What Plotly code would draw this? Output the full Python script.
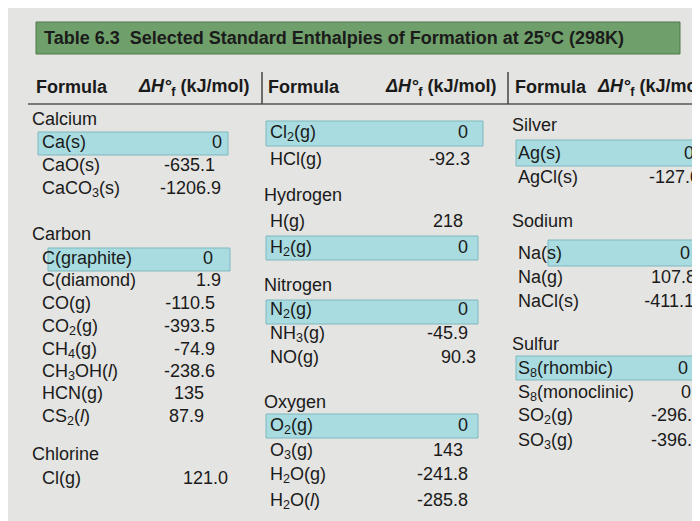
import plotly.graph_objects as go

title = "Table 6.3  Selected Standard Enthalpies of Formation at 25°C (298K)"

# column 1
c1_groups = ["Calcium", "Carbon", "Chlorine"]
c1_group_y = [112, 227, 447]
c1_formulas = ["Ca(s)", "CaO(s)", "CaCO<sub>3</sub>(s)", "C(graphite)", "C(diamond)", "CO(g)",
               "CO<sub>2</sub>(g)", "CH<sub>4</sub>(g)", "CH<sub>3</sub>OH(<i>l</i>)", "HCN(g)",
               "CS<sub>2</sub>(<i>l</i>)", "Cl(g)"]
c1_values = ["0", "-635.1", "-1206.9", "0", "1.9", "-110.5", "-393.5", "-74.9", "-238.6",
             "135", "87.9", "121.0"]
c1_y = [135, 158, 181, 251, 273, 296, 319, 342, 364, 386, 409, 471]
c1_vx = [214, 207, 213, 205, 213, 207, 207, 207, 207, 196, 196, 220]

# column 2
c2_groups = ["Hydrogen", "Nitrogen", "Oxygen"]
c2_group_y = [188, 278, 395]
c2_formulas = ["Cl<sub>2</sub>(g)", "HCl(g)", "H(g)", "H<sub>2</sub>(g)", "N<sub>2</sub>(g)",
               "NH<sub>3</sub>(g)", "NO(g)", "O<sub>2</sub>(g)", "O<sub>3</sub>(g)",
               "H<sub>2</sub>O(g)", "H<sub>2</sub>O(<i>l</i>)"]
c2_values = ["0", "-92.3", "218", "0", "0", "-45.9", "90.3", "0", "143", "-241.8", "-285.8"]
c2_y = [125, 152, 214, 240, 302, 326, 350, 418, 443, 467, 493]
c2_vx = [460, 462, 455, 460, 460, 460, 468, 460, 455, 460, 460]

# column 3
c3_groups = ["Silver", "Sodium", "Sulfur"]
c3_group_y = [118, 214, 337]
c3_formulas = ["Ag(s)", "AgCl(s)", "Na(s)", "Na(g)", "NaCl(s)", "S<sub>8</sub>(rhombic)",
               "S<sub>8</sub>(monoclinic)", "SO<sub>2</sub>(g)", "SO<sub>3</sub>(g)"]
c3_values = ["0", "-127.0", "0", "107.8", "-411.1", "0", "0.3", "-296.8", "-396.0"]
c3_y = [146, 170, 246, 270, 294, 361, 385, 408, 433]
c3_vx = [686, 692, 682, 688, 686, 680, 698, 694, 694]

highlights = [(30, 220, 124, 147), (40, 222, 240, 263), (258, 475, 113, 138),
              (258, 470, 228, 252), (258, 470, 292, 316), (258, 470, 406, 430),
              (508, 695, 132, 158), (540, 695, 232, 258), (508, 690, 348, 372)]

fig = go.Figure()
shapes = [dict(type="rect", x0=28, x1=672, y0=14, y1=46, fillcolor="#6f9f6a", line=dict(color="#4d7a4a", width=1)),
          dict(type="line", x0=20, x1=700, y0=96, y1=96, line=dict(color="#555", width=1.5)),
          dict(type="line", x0=254, x1=254, y0=64, y1=96, line=dict(color="#444", width=1.5)),
          dict(type="line", x0=500, x1=500, y0=64, y1=96, line=dict(color="#444", width=1.5))]
for x0, x1, y0, y1 in highlights:
    shapes.append(dict(type="rect", x0=x0, x1=x1, y0=y0, y1=y1, fillcolor="#a9dce0",
                       line=dict(color="#7fb8bf", width=1), layer="below"))

font = dict(family="Liberation Sans, Arial", size=18, color="#1a1a1a")

def add_col(groups, gy, gx, formulas, fy, fx, values, vx):
    fig.add_trace(go.Scatter(x=[gx] * len(groups), y=gy, text=groups, mode="text", cliponaxis=False,
                             textposition="middle right", textfont=font, hoverinfo="skip"))
    fig.add_trace(go.Scatter(x=[fx] * len(formulas), y=fy, text=formulas, mode="text", cliponaxis=False,
                             textposition="middle right", textfont=font, hoverinfo="skip"))
    fig.add_trace(go.Scatter(x=vx, y=fy, text=values, mode="text", cliponaxis=False,
                             textposition="middle left", textfont=font, hoverinfo="skip"))

add_col(c1_groups, c1_group_y, 24, c1_formulas, c1_y, 34, c1_values, c1_vx)
add_col(c2_groups, c2_group_y, 256, c2_formulas, c2_y, 262, c2_values, c2_vx)
add_col(c3_groups, c3_group_y, 504, c3_formulas, c3_y, 510, c3_values, c3_vx)

hdr = "<i>ΔH°</i><sub>f</sub> (kJ/mol)"
anns = [dict(x=34, y=30, text="<b>" + title + "</b>", showarrow=False, xanchor="left",
             font=dict(family="Liberation Sans, Arial", size=18, color="#1b1b1b"))]
for x, t in [(26, "<b>Formula</b>"), (128, "<b>" + hdr + "</b>"), (258, "<b>Formula</b>"),
             (375, "<b>" + hdr + "</b>"), (505, "<b>Formula</b>"), (587, "<b>" + hdr + "</b>")]:
    anns.append(dict(x=x, y=79, text=t, showarrow=False, xanchor="left",
                     font=dict(family="Liberation Sans, Arial", size=18, color="#1a1a1a")))

fig.update_layout(width=700, height=521, margin=dict(l=0, r=0, t=0, b=0),
                  paper_bgcolor="#e4e4e2", plot_bgcolor="#e4e4e2", showlegend=False,
                  shapes=shapes, annotations=anns,
                  xaxis=dict(range=[0, 700], visible=False, fixedrange=True),
                  yaxis=dict(range=[521, 0], visible=False, fixedrange=True))
fig.write_html("out.html")
